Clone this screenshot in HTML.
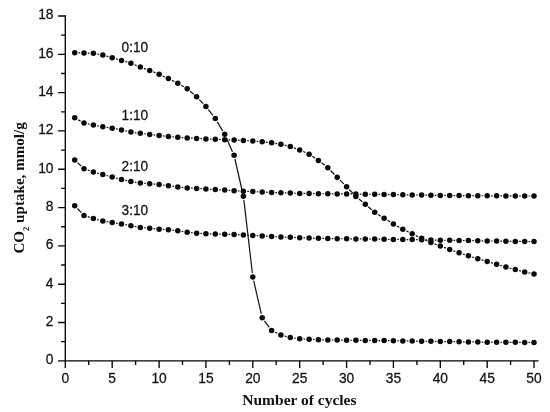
<!DOCTYPE html>
<html><head><meta charset="utf-8"><title>CO2 uptake vs number of cycles</title>
<style>
html,body{margin:0;padding:0;background:#fff;}
body{width:550px;height:412px;overflow:hidden;}
svg{display:block;}
.t{font-family:"Liberation Sans",Arial,sans-serif;font-size:13.8px;fill:#111;stroke:#111;stroke-width:0.25px;}
.s{font-size:13.7px;}
.b{font-family:"Liberation Serif","Times New Roman",serif;font-weight:bold;font-size:15px;fill:#111;}
</style></head><body>
<svg width="550" height="412" viewBox="0 0 550 412">
<rect width="550" height="412" fill="#fff"/>
<path d="M78.57 52.88L80.15 52.92M87.95 53.12L89.53 53.18M97.26 54.00L98.96 54.30M106.55 56.08L108.43 56.62M115.92 58.78L117.80 59.32M125.28 61.55L127.20 62.15M134.55 64.73L136.67 65.57M143.97 68.33L146.01 69.07M153.28 71.90L155.45 72.80M162.59 75.93L164.88 76.97M171.91 80.35L174.31 81.55M181.16 85.27L183.81 86.83M190.14 91.33L193.58 94.27M199.26 99.60L203.21 103.70M208.33 109.57L212.90 115.43M217.30 121.85L222.68 130.85M226.26 137.76L232.46 151.64M234.92 159.00L242.56 192.50M243.88 200.17L252.35 273.03M253.67 280.70L261.30 313.90M264.48 320.85L269.25 327.35M275.07 332.19L277.41 333.31M284.68 336.04L286.54 336.56M294.17 338.05L295.80 338.25M303.57 338.91L305.16 338.99M312.94 339.41L314.53 339.49M322.32 339.78L323.90 339.82M331.70 339.98L333.28 340.02M341.07 340.14L342.65 340.16M350.45 340.24L352.03 340.26M359.82 340.34L361.40 340.36M369.20 340.44L370.78 340.46M378.57 340.54L380.15 340.56M387.95 340.68L389.53 340.72M397.32 340.84L398.90 340.86M406.70 340.94L408.28 340.96M416.07 341.08L417.65 341.12M425.45 341.24L427.03 341.26M434.82 341.38L436.40 341.42M444.20 341.54L445.78 341.56M453.57 341.64L455.15 341.66M462.95 341.78L464.53 341.82M472.32 341.94L473.90 341.96M481.70 342.08L483.28 342.12M491.07 342.20L492.65 342.20M500.45 342.24L502.03 342.26M509.82 342.30L511.40 342.30M519.20 342.34L520.78 342.36M528.57 342.40L530.15 342.40" fill="none" stroke="#111" stroke-width="1.2"/>
<g fill="#0a0a0a"><circle cx="74.7" cy="52.8" r="2.75"/><circle cx="84.0" cy="53.0" r="2.75"/><circle cx="93.4" cy="53.3" r="2.75"/><circle cx="102.8" cy="55.0" r="2.75"/><circle cx="112.2" cy="57.7" r="2.75"/><circle cx="121.5" cy="60.4" r="2.75"/><circle cx="130.9" cy="63.3" r="2.75"/><circle cx="140.3" cy="67.0" r="2.75"/><circle cx="149.7" cy="70.4" r="2.75"/><circle cx="159.1" cy="74.3" r="2.75"/><circle cx="168.4" cy="78.6" r="2.75"/><circle cx="177.8" cy="83.3" r="2.75"/><circle cx="187.2" cy="88.8" r="2.75"/><circle cx="196.6" cy="96.8" r="2.75"/><circle cx="205.9" cy="106.5" r="2.75"/><circle cx="215.3" cy="118.5" r="2.75"/><circle cx="224.7" cy="134.2" r="2.75"/><circle cx="234.1" cy="155.2" r="2.75"/><circle cx="243.4" cy="196.3" r="2.75"/><circle cx="252.8" cy="276.9" r="2.75"/><circle cx="262.2" cy="317.7" r="2.75"/><circle cx="271.6" cy="330.5" r="2.75"/><circle cx="280.9" cy="335.0" r="2.75"/><circle cx="290.3" cy="337.6" r="2.75"/><circle cx="299.7" cy="338.7" r="2.75"/><circle cx="309.1" cy="339.2" r="2.75"/><circle cx="318.4" cy="339.7" r="2.75"/><circle cx="327.8" cy="339.9" r="2.75"/><circle cx="337.2" cy="340.1" r="2.75"/><circle cx="346.6" cy="340.2" r="2.75"/><circle cx="355.9" cy="340.3" r="2.75"/><circle cx="365.3" cy="340.4" r="2.75"/><circle cx="374.7" cy="340.5" r="2.75"/><circle cx="384.1" cy="340.6" r="2.75"/><circle cx="393.4" cy="340.8" r="2.75"/><circle cx="402.8" cy="340.9" r="2.75"/><circle cx="412.2" cy="341.0" r="2.75"/><circle cx="421.6" cy="341.2" r="2.75"/><circle cx="430.9" cy="341.3" r="2.75"/><circle cx="440.3" cy="341.5" r="2.75"/><circle cx="449.7" cy="341.6" r="2.75"/><circle cx="459.1" cy="341.7" r="2.75"/><circle cx="468.4" cy="341.9" r="2.75"/><circle cx="477.8" cy="342.0" r="2.75"/><circle cx="487.2" cy="342.2" r="2.75"/><circle cx="496.6" cy="342.2" r="2.75"/><circle cx="505.9" cy="342.3" r="2.75"/><circle cx="515.3" cy="342.3" r="2.75"/><circle cx="524.7" cy="342.4" r="2.75"/><circle cx="534.0" cy="342.4" r="2.75"/></g>
<path d="M78.05 119.65L80.67 121.15M87.87 123.87L89.60 124.23M97.26 125.74L98.97 126.06M106.66 127.38L108.32 127.62M116.01 128.90L117.71 129.20M125.35 130.79L127.13 131.21M134.79 132.60L136.43 132.80M144.17 133.75L145.80 133.95M153.55 134.85L155.18 135.05M162.93 135.87L164.54 136.03M172.31 136.77L173.92 136.93M181.69 137.55L183.28 137.65M191.07 138.11L192.66 138.19M200.44 138.61L202.03 138.69M209.82 139.02L211.40 139.08M219.19 139.41L220.78 139.49M228.57 139.87L230.15 139.93M237.95 140.22L239.53 140.28M247.32 140.65L248.91 140.75M256.69 141.29L258.29 141.41M266.05 142.11L267.67 142.29M275.40 143.32L277.07 143.58M284.70 145.17L286.52 145.63M293.98 147.89L296.00 148.61M303.22 151.53L305.51 152.57M312.30 156.35L315.17 158.25M321.50 162.80L324.72 165.30M330.52 170.49L334.45 174.51M339.93 180.06L343.80 183.94M349.25 189.52L353.23 193.68M358.94 198.98L362.29 201.72M368.25 206.75L371.72 209.75M377.96 214.40L380.77 216.20M387.37 220.35L390.11 222.05M396.85 225.96L399.37 227.34M406.30 230.92L408.67 232.08M415.69 235.49L418.03 236.61M425.09 239.93L427.38 240.97M434.58 243.96L436.65 244.74M443.97 247.43L446.01 248.17M453.35 250.79L455.37 251.51M462.76 253.99L464.71 254.61M472.15 256.95L474.07 257.55M481.54 259.82L483.44 260.38M490.92 262.58L492.80 263.12M500.28 265.35L502.20 265.95M509.70 268.07L511.52 268.53M519.06 270.54L520.92 271.06M528.51 272.84L530.22 273.16" fill="none" stroke="#111" stroke-width="1.2"/>
<g fill="#0a0a0a"><circle cx="74.7" cy="117.7" r="2.75"/><circle cx="84.0" cy="123.1" r="2.75"/><circle cx="93.4" cy="125.0" r="2.75"/><circle cx="102.8" cy="126.8" r="2.75"/><circle cx="112.2" cy="128.2" r="2.75"/><circle cx="121.5" cy="129.9" r="2.75"/><circle cx="130.9" cy="132.1" r="2.75"/><circle cx="140.3" cy="133.3" r="2.75"/><circle cx="149.7" cy="134.4" r="2.75"/><circle cx="159.1" cy="135.5" r="2.75"/><circle cx="168.4" cy="136.4" r="2.75"/><circle cx="177.8" cy="137.3" r="2.75"/><circle cx="187.2" cy="137.9" r="2.75"/><circle cx="196.6" cy="138.4" r="2.75"/><circle cx="205.9" cy="138.9" r="2.75"/><circle cx="215.3" cy="139.2" r="2.75"/><circle cx="224.7" cy="139.7" r="2.75"/><circle cx="234.1" cy="140.1" r="2.75"/><circle cx="243.4" cy="140.4" r="2.75"/><circle cx="252.8" cy="141.0" r="2.75"/><circle cx="262.2" cy="141.7" r="2.75"/><circle cx="271.6" cy="142.7" r="2.75"/><circle cx="280.9" cy="144.2" r="2.75"/><circle cx="290.3" cy="146.6" r="2.75"/><circle cx="299.7" cy="149.9" r="2.75"/><circle cx="309.1" cy="154.2" r="2.75"/><circle cx="318.4" cy="160.4" r="2.75"/><circle cx="327.8" cy="167.7" r="2.75"/><circle cx="337.2" cy="177.3" r="2.75"/><circle cx="346.6" cy="186.7" r="2.75"/><circle cx="355.9" cy="196.5" r="2.75"/><circle cx="365.3" cy="204.2" r="2.75"/><circle cx="374.7" cy="212.3" r="2.75"/><circle cx="384.1" cy="218.3" r="2.75"/><circle cx="393.4" cy="224.1" r="2.75"/><circle cx="402.8" cy="229.2" r="2.75"/><circle cx="412.2" cy="233.8" r="2.75"/><circle cx="421.6" cy="238.3" r="2.75"/><circle cx="430.9" cy="242.6" r="2.75"/><circle cx="440.3" cy="246.1" r="2.75"/><circle cx="449.7" cy="249.5" r="2.75"/><circle cx="459.1" cy="252.8" r="2.75"/><circle cx="468.4" cy="255.8" r="2.75"/><circle cx="477.8" cy="258.7" r="2.75"/><circle cx="487.2" cy="261.5" r="2.75"/><circle cx="496.6" cy="264.2" r="2.75"/><circle cx="505.9" cy="267.1" r="2.75"/><circle cx="515.3" cy="269.5" r="2.75"/><circle cx="524.7" cy="272.1" r="2.75"/><circle cx="534.0" cy="273.9" r="2.75"/></g>
<path d="M77.53 162.65L81.19 166.05M87.72 170.03L89.76 170.77M97.20 173.07L99.02 173.53M106.57 175.50L108.41 176.00M115.94 178.00L117.78 178.50M125.36 180.31L127.11 180.69M134.78 182.08L136.44 182.32M144.18 183.27L145.79 183.43M153.56 184.09L155.16 184.21M162.91 185.04L164.56 185.26M172.30 186.25L173.93 186.45M181.68 187.31L183.30 187.49M191.07 188.11L192.66 188.19M200.44 188.65L202.03 188.75M209.82 189.25L211.41 189.35M219.19 189.81L220.78 189.89M228.57 190.35L230.16 190.45M237.94 190.91L239.53 190.99M247.32 191.32L248.90 191.38M256.69 191.75L258.28 191.85M266.07 192.22L267.65 192.28M275.45 192.57L277.03 192.63M284.82 192.88L286.40 192.92M294.20 193.17L295.78 193.23M303.57 193.44L305.15 193.46M312.95 193.58L314.53 193.62M322.32 193.74L323.90 193.76M331.70 193.84L333.28 193.86M341.07 193.90L342.65 193.90M350.45 193.94L352.03 193.96M359.82 194.08L361.40 194.12M369.20 194.24L370.78 194.26M378.57 194.38L380.15 194.42M387.95 194.54L389.53 194.56M397.32 194.68L398.90 194.72M406.70 194.84L408.28 194.86M416.07 194.98L417.65 195.02M425.45 195.18L427.03 195.22M434.82 195.34L436.40 195.36M444.20 195.44L445.78 195.46M453.57 195.54L455.15 195.56M462.95 195.64L464.53 195.66M472.32 195.70L473.90 195.70M481.70 195.74L483.28 195.76M491.07 195.80L492.65 195.80M500.45 195.84L502.03 195.86M509.82 195.90L511.40 195.90M519.20 195.94L520.78 195.96M528.57 196.00L530.15 196.00" fill="none" stroke="#111" stroke-width="1.2"/>
<g fill="#0a0a0a"><circle cx="74.7" cy="160.0" r="2.75"/><circle cx="84.0" cy="168.7" r="2.75"/><circle cx="93.4" cy="172.1" r="2.75"/><circle cx="102.8" cy="174.5" r="2.75"/><circle cx="112.2" cy="177.0" r="2.75"/><circle cx="121.5" cy="179.5" r="2.75"/><circle cx="130.9" cy="181.5" r="2.75"/><circle cx="140.3" cy="182.9" r="2.75"/><circle cx="149.7" cy="183.8" r="2.75"/><circle cx="159.1" cy="184.5" r="2.75"/><circle cx="168.4" cy="185.8" r="2.75"/><circle cx="177.8" cy="186.9" r="2.75"/><circle cx="187.2" cy="187.9" r="2.75"/><circle cx="196.6" cy="188.4" r="2.75"/><circle cx="205.9" cy="189.0" r="2.75"/><circle cx="215.3" cy="189.6" r="2.75"/><circle cx="224.7" cy="190.1" r="2.75"/><circle cx="234.1" cy="190.7" r="2.75"/><circle cx="243.4" cy="191.2" r="2.75"/><circle cx="252.8" cy="191.5" r="2.75"/><circle cx="262.2" cy="192.1" r="2.75"/><circle cx="271.6" cy="192.4" r="2.75"/><circle cx="280.9" cy="192.8" r="2.75"/><circle cx="290.3" cy="193.0" r="2.75"/><circle cx="299.7" cy="193.4" r="2.75"/><circle cx="309.1" cy="193.5" r="2.75"/><circle cx="318.4" cy="193.7" r="2.75"/><circle cx="327.8" cy="193.8" r="2.75"/><circle cx="337.2" cy="193.9" r="2.75"/><circle cx="346.6" cy="193.9" r="2.75"/><circle cx="355.9" cy="194.0" r="2.75"/><circle cx="365.3" cy="194.2" r="2.75"/><circle cx="374.7" cy="194.3" r="2.75"/><circle cx="384.1" cy="194.5" r="2.75"/><circle cx="393.4" cy="194.6" r="2.75"/><circle cx="402.8" cy="194.8" r="2.75"/><circle cx="412.2" cy="194.9" r="2.75"/><circle cx="421.6" cy="195.1" r="2.75"/><circle cx="430.9" cy="195.3" r="2.75"/><circle cx="440.3" cy="195.4" r="2.75"/><circle cx="449.7" cy="195.5" r="2.75"/><circle cx="459.1" cy="195.6" r="2.75"/><circle cx="468.4" cy="195.7" r="2.75"/><circle cx="477.8" cy="195.7" r="2.75"/><circle cx="487.2" cy="195.8" r="2.75"/><circle cx="496.6" cy="195.8" r="2.75"/><circle cx="505.9" cy="195.9" r="2.75"/><circle cx="515.3" cy="195.9" r="2.75"/><circle cx="524.7" cy="196.0" r="2.75"/><circle cx="534.0" cy="196.0" r="2.75"/></g>
<path d="M77.39 208.50L81.34 212.60M87.74 216.66L89.73 217.34M97.20 219.57L99.02 220.03M106.64 221.66L108.33 221.94M116.03 223.18L117.69 223.42M125.39 224.70L127.09 225.00M134.76 226.40L136.46 226.70M144.18 227.77L145.79 227.93M153.56 228.67L155.17 228.83M162.94 229.41L164.53 229.49M172.30 230.15L173.93 230.35M181.65 231.42L183.32 231.68M191.06 232.67L192.67 232.83M200.44 233.41L202.03 233.49M209.82 233.82L211.40 233.88M219.20 234.12L220.78 234.18M228.57 234.38L230.15 234.42M237.94 234.71L239.53 234.79M247.32 235.21L248.91 235.29M256.70 235.67L258.28 235.73M266.07 236.11L267.66 236.19M275.44 236.65L277.03 236.75M284.82 237.12L286.40 237.18M294.20 237.47L295.78 237.53M303.57 237.82L305.15 237.88M312.95 238.08L314.53 238.12M322.32 238.32L323.90 238.38M331.70 238.58L333.28 238.62M341.07 238.74L342.65 238.76M350.45 238.84L352.03 238.86M359.82 238.94L361.40 238.96M369.20 239.04L370.78 239.06M378.57 239.14L380.15 239.16M387.95 239.28L389.53 239.32M397.32 239.44L398.90 239.46M406.70 239.54L408.28 239.56M416.07 239.64L417.65 239.66M425.45 239.82L427.03 239.88M434.82 240.08L436.40 240.12M444.20 240.24L445.78 240.26M453.57 240.34L455.15 240.36M462.95 240.48L464.53 240.52M472.32 240.68L473.90 240.72M481.70 240.84L483.28 240.86M491.07 240.98L492.65 241.02M500.45 241.14L502.03 241.16M509.82 241.28L511.40 241.32M519.20 241.44L520.78 241.46M528.57 241.54L530.15 241.56" fill="none" stroke="#111" stroke-width="1.2"/>
<g fill="#0a0a0a"><circle cx="74.7" cy="205.7" r="2.75"/><circle cx="84.0" cy="215.4" r="2.75"/><circle cx="93.4" cy="218.6" r="2.75"/><circle cx="102.8" cy="221.0" r="2.75"/><circle cx="112.2" cy="222.6" r="2.75"/><circle cx="121.5" cy="224.0" r="2.75"/><circle cx="130.9" cy="225.7" r="2.75"/><circle cx="140.3" cy="227.4" r="2.75"/><circle cx="149.7" cy="228.3" r="2.75"/><circle cx="159.1" cy="229.2" r="2.75"/><circle cx="168.4" cy="229.7" r="2.75"/><circle cx="177.8" cy="230.8" r="2.75"/><circle cx="187.2" cy="232.3" r="2.75"/><circle cx="196.6" cy="233.2" r="2.75"/><circle cx="205.9" cy="233.7" r="2.75"/><circle cx="215.3" cy="234.0" r="2.75"/><circle cx="224.7" cy="234.3" r="2.75"/><circle cx="234.1" cy="234.5" r="2.75"/><circle cx="243.4" cy="235.0" r="2.75"/><circle cx="252.8" cy="235.5" r="2.75"/><circle cx="262.2" cy="235.9" r="2.75"/><circle cx="271.6" cy="236.4" r="2.75"/><circle cx="280.9" cy="237.0" r="2.75"/><circle cx="290.3" cy="237.3" r="2.75"/><circle cx="299.7" cy="237.7" r="2.75"/><circle cx="309.1" cy="238.0" r="2.75"/><circle cx="318.4" cy="238.2" r="2.75"/><circle cx="327.8" cy="238.5" r="2.75"/><circle cx="337.2" cy="238.7" r="2.75"/><circle cx="346.6" cy="238.8" r="2.75"/><circle cx="355.9" cy="238.9" r="2.75"/><circle cx="365.3" cy="239.0" r="2.75"/><circle cx="374.7" cy="239.1" r="2.75"/><circle cx="384.1" cy="239.2" r="2.75"/><circle cx="393.4" cy="239.4" r="2.75"/><circle cx="402.8" cy="239.5" r="2.75"/><circle cx="412.2" cy="239.6" r="2.75"/><circle cx="421.6" cy="239.7" r="2.75"/><circle cx="430.9" cy="240.0" r="2.75"/><circle cx="440.3" cy="240.2" r="2.75"/><circle cx="449.7" cy="240.3" r="2.75"/><circle cx="459.1" cy="240.4" r="2.75"/><circle cx="468.4" cy="240.6" r="2.75"/><circle cx="477.8" cy="240.8" r="2.75"/><circle cx="487.2" cy="240.9" r="2.75"/><circle cx="496.6" cy="241.1" r="2.75"/><circle cx="505.9" cy="241.2" r="2.75"/><circle cx="515.3" cy="241.4" r="2.75"/><circle cx="524.7" cy="241.5" r="2.75"/><circle cx="534.0" cy="241.6" r="2.75"/></g>
<g stroke="#050505" stroke-width="1.35" fill="none">
<path d="M65.3 15.3 V360.8 H538.5"/>
<path d="M65.3 360.8 h-7.2M65.3 341.6 h-4.2M65.3 322.5 h-7.2M65.3 303.3 h-4.2M65.3 284.2 h-7.2M65.3 265.0 h-4.2M65.3 245.9 h-7.2M65.3 226.7 h-4.2M65.3 207.6 h-7.2M65.3 188.4 h-4.2M65.3 169.2 h-7.2M65.3 150.1 h-4.2M65.3 130.9 h-7.2M65.3 111.8 h-4.2M65.3 92.6 h-7.2M65.3 73.5 h-4.2M65.3 54.3 h-7.2M65.3 35.1 h-4.2M65.3 16.0 h-7.2M65.3 360.8 v7.2M112.2 360.8 v7.2M159.1 360.8 v7.2M205.9 360.8 v7.2M252.8 360.8 v7.2M299.7 360.8 v7.2M346.6 360.8 v7.2M393.4 360.8 v7.2M440.3 360.8 v7.2M487.2 360.8 v7.2M534.0 360.8 v7.2M88.7 360.8 v4.2M135.6 360.8 v4.2M182.5 360.8 v4.2M229.4 360.8 v4.2M276.2 360.8 v4.2M323.1 360.8 v4.2M370.0 360.8 v4.2M416.9 360.8 v4.2M463.7 360.8 v4.2M510.6 360.8 v4.2"/>
</g>
<text class="t" transform="translate(53.5,364.1) scale(1,1.05)" text-anchor="end">0</text>
<text class="t" transform="translate(53.5,325.8) scale(1,1.05)" text-anchor="end">2</text>
<text class="t" transform="translate(53.5,287.5) scale(1,1.05)" text-anchor="end">4</text>
<text class="t" transform="translate(53.5,249.2) scale(1,1.05)" text-anchor="end">6</text>
<text class="t" transform="translate(53.5,210.9) scale(1,1.05)" text-anchor="end">8</text>
<text class="t" transform="translate(53.5,172.5) scale(1,1.05)" text-anchor="end">10</text>
<text class="t" transform="translate(53.5,134.2) scale(1,1.05)" text-anchor="end">12</text>
<text class="t" transform="translate(53.5,95.9) scale(1,1.05)" text-anchor="end">14</text>
<text class="t" transform="translate(53.5,57.6) scale(1,1.05)" text-anchor="end">16</text>
<text class="t" transform="translate(53.5,19.3) scale(1,1.05)" text-anchor="end">18</text>
<text class="t" transform="translate(65.3,383.1) scale(1,1.05)" text-anchor="middle">0</text>
<text class="t" transform="translate(112.2,383.1) scale(1,1.05)" text-anchor="middle">5</text>
<text class="t" transform="translate(159.1,383.1) scale(1,1.05)" text-anchor="middle">10</text>
<text class="t" transform="translate(205.9,383.1) scale(1,1.05)" text-anchor="middle">15</text>
<text class="t" transform="translate(252.8,383.1) scale(1,1.05)" text-anchor="middle">20</text>
<text class="t" transform="translate(299.7,383.1) scale(1,1.05)" text-anchor="middle">25</text>
<text class="t" transform="translate(346.6,383.1) scale(1,1.05)" text-anchor="middle">30</text>
<text class="t" transform="translate(393.4,383.1) scale(1,1.05)" text-anchor="middle">35</text>
<text class="t" transform="translate(440.3,383.1) scale(1,1.05)" text-anchor="middle">40</text>
<text class="t" transform="translate(487.2,383.1) scale(1,1.05)" text-anchor="middle">45</text>
<text class="t" transform="translate(534.0,383.1) scale(1,1.05)" text-anchor="middle">50</text>
<text class="t s" transform="translate(121.55,52.0) scale(1,1.08)">0:10</text>
<text class="t s" transform="translate(121.55,120.4) scale(1,1.08)">1:10</text>
<text class="t s" transform="translate(121.55,170.6) scale(1,1.08)">2:10</text>
<text class="t s" transform="translate(121.55,215.0) scale(1,1.08)">3:10</text>
<text class="b" x="299.4" y="404.9" style="font-size:15.5px" text-anchor="middle">Number of cycles</text>
<text class="b" transform="translate(23.7,187.9) rotate(-90)" style="font-size:15.1px" text-anchor="middle">CO<tspan style="font-size:8.5px" dy="5.7">2</tspan><tspan dy="-5.7"> uptake, mmol/g</tspan></text>
</svg></body></html>
